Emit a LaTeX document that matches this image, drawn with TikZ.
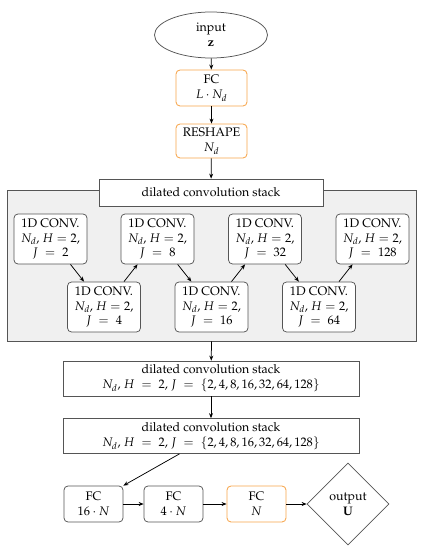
\documentclass[tikz,border=0pt]{standalone}
\usepackage[T1]{fontenc}
\usepackage{mathpazo}
\usetikzlibrary{arrows.meta,shapes.geometric}
\definecolor{orng}{RGB}{247,165,75}
\definecolor{bord}{RGB}{85,85,85}
\definecolor{stackfill}{RGB}{240,240,240}
\tikzset{
  base/.style={font=\fontsize{12.4}{15}\selectfont, align=center, inner sep=1pt},
  rnode/.style={base, draw=bord, rounded corners=4pt, line width=0.75pt, fill=white},
  onode/.style={base, draw=orng, rounded corners=4pt, line width=0.85pt, fill=white},
  conv/.style={rnode, font=\fontsize{12.4}{14.4}\selectfont, minimum width=73pt, minimum height=50pt},
  fcnode/.style={rnode, minimum width=59pt, minimum height=36pt},
  sbox/.style={base, draw=bord, line width=0.75pt, fill=white, minimum width=296pt, minimum height=35pt},
  arr/.style={-{Stealth[length=5pt,width=4pt]}, line width=0.75pt, black},
}
\begin{document}
\begin{tikzpicture}[x=1pt,y=-1pt]
\useasboundingbox (0,0) rectangle (421,550);
% input
\node[base, ellipse, draw=bord, line width=0.75pt, minimum width=113pt, minimum height=46pt, inner sep=0pt] (in) at (211,35) {input\\$\mathbf{z}$};
\node[onode, minimum width=71pt, minimum height=36pt] (fc1) at (211.5,88) {FC\\$L\cdot N_d$};
\node[onode, minimum width=71pt, minimum height=34pt] (rs) at (211.5,141) {RESHAPE\\$N_d$};
% gray stack
\node[draw=bord, fill=stackfill, line width=0.75pt, minimum width=409pt, minimum height=151pt, inner sep=0pt] (stack) at (211.5,265.5) {};
\node[base, draw=bord, line width=0.75pt, fill=white, minimum width=224pt, minimum height=27pt] (hdr) at (211,192.5) {dilated convolution stack};
% conv nodes
\node[conv] (c1) at (50.5,239) {1D CONV.\\$N_d$, $H=2$,\\$J\;=\;2$};
\node[conv] (c2) at (104,307) {1D CONV.\\$N_d$, $H=2$,\\$J\;=\;4$};
\node[conv] (c3) at (157.5,239) {1D CONV.\\$N_d$, $H=2$,\\$J\;=\;8$};
\node[conv] (c4) at (211.5,307) {1D CONV.\\$N_d$, $H=2$,\\$J\;=\;16$};
\node[conv] (c5) at (265,239) {1D CONV.\\$N_d$, $H=2$,\\$J\;=\;32$};
\node[conv] (c6) at (319,307) {1D CONV.\\$N_d$, $H=2$,\\$J\;=\;64$};
\node[conv] (c7) at (372.5,239) {1D CONV.\\$N_d$, $H=2$,\\$J\;=\;128$};
% stacks
\node[sbox] (s2) at (211,378.5) {dilated convolution stack\\$N_d$, $H\;=\;2$, $J\;=\;\{2,4,8,16,32,64,128\}$};
\node[sbox] (s3) at (211,436) {dilated convolution stack\\$N_d$, $H\;=\;2$, $J\;=\;\{2,4,8,16,32,64,128\}$};
% bottom row
\node[fcnode] (f16) at (93.5,504) {FC\\$16\cdot N$};
\node[fcnode] (f4) at (173.5,504) {FC\\$4\cdot N$};
\node[onode, minimum width=59pt, minimum height=36pt] (fn) at (256.5,504) {FC\\$N$};
\node[base, diamond, draw=bord, line width=0.75pt, minimum width=82pt, minimum height=82pt, inner sep=0pt] (out) at (348,504) {output\\$\mathbf{U}$};
% arrows
\draw[arr] (in) -- (fc1);
\draw[arr] (fc1) -- (rs);
\draw[arr] (rs) -- (hdr);
\draw[arr] (c1) -- (c2);
\draw[arr] (c2) -- (c3);
\draw[arr] (c3) -- (c4);
\draw[arr] (c4) -- (c5);
\draw[arr] (c5) -- (c6);
\draw[arr] (c6) -- (c7);
\draw[arr] (stack.south) -- (s2);
\draw[arr] (s2) -- (s3);
\draw[arr] (s3) -- (f16.north east);
\draw[arr] (f16) -- (f4);
\draw[arr] (f4) -- (fn);
\draw[arr] (fn) -- (out);
\end{tikzpicture}
\end{document}
